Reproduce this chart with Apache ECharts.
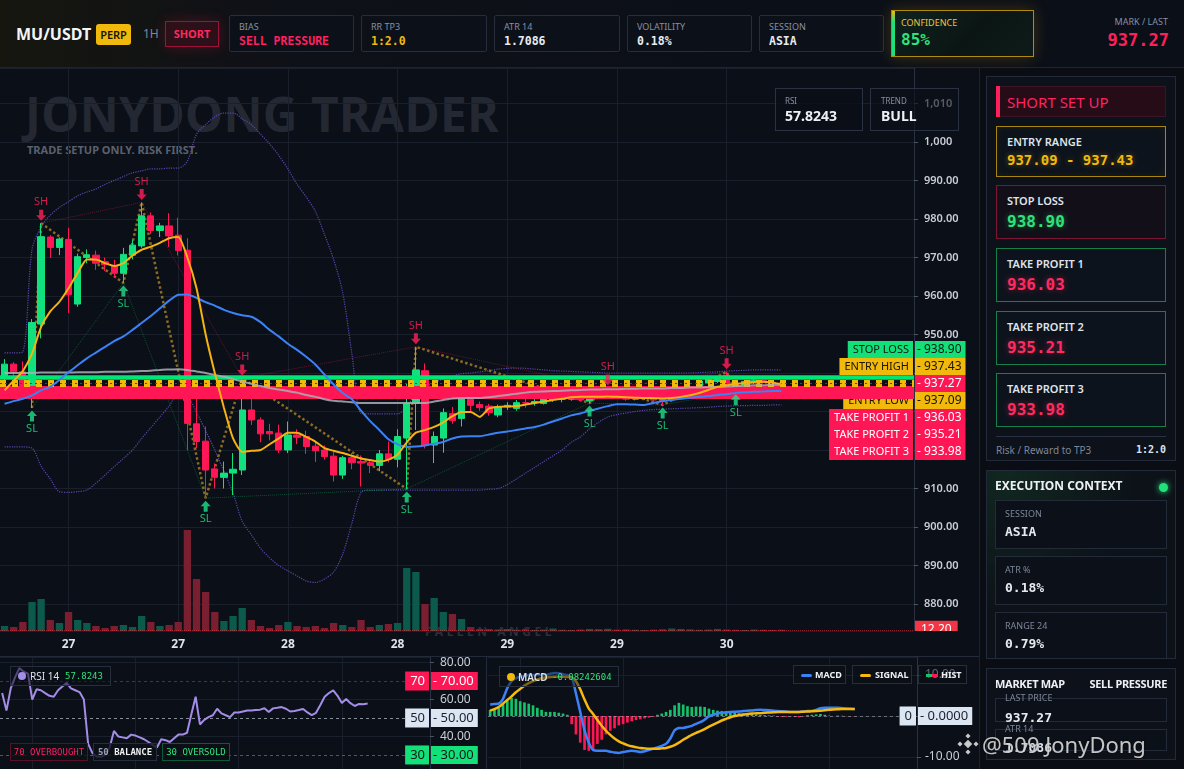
<!DOCTYPE html>
<html>
<head>
<meta charset="utf-8">
<title>MU/USDT</title>
<script src="https://cdn.jsdelivr.net/npm/echarts@6.0.0/dist/echarts.min.js"></script>
<style>
* { box-sizing: border-box; }
html, body { margin:0; padding:0; width:1184px; height:769px; overflow:hidden; background:#0b0f17; font-family:"Noto Sans","DejaVu Sans",sans-serif; }
.abs { position:absolute; }
.mono { font-family:"DejaVu Sans Mono","Liberation Mono",monospace; font-weight:700; }
#bg, #chart { position:absolute; left:0; top:0; width:1184px; height:769px; }
.stat { position:absolute; top:15px; height:37px; border:1px solid #262d3b; background:#0c1119; border-radius:2px; }
.stat .lb { position:absolute; left:9px; top:5px; font-size:9px; color:#8790a3; line-height:12px; }
.stat .vl { position:absolute; left:9px; top:18px; font-size:11.5px; line-height:14px; }
.card { position:absolute; left:996px; width:170px; background:#0d131c; border:1px solid; }
.card .lb { position:absolute; left:10px; top:7px; font-size:11px; font-weight:600; color:#dfe3ea; line-height:15px; }
.card .vl { position:absolute; left:10px; font-size:16px; line-height:20px; }
.sub { position:absolute; left:8px; width:172px; border:1px solid #232a38; background:#0c1119; }
.sub .lb { position:absolute; left:9px; font-size:9px; color:#7d8699; line-height:12px; }
.sub .vl { position:absolute; left:9px; font-size:13px; color:#e6e9ef; line-height:16px; }
.leg { position:absolute; border:1px solid #262d3b; background:rgba(11,15,23,0.8); }
</style>
</head>
<body>
<div id="bg">
  <div class="abs" style="left:25px;top:82px;font-size:48px;font-weight:700;color:#232833;letter-spacing:0.4px;white-space:nowrap;line-height:64px;">JONYDONG TRADER</div>
  <div class="abs" style="left:27px;top:142px;font-size:11px;font-weight:700;color:#5a606e;white-space:nowrap;line-height:16px;">TRADE SETUP ONLY. RISK FIRST.</div>
  <div class="abs" style="left:425px;top:624px;font-size:12px;font-weight:700;color:#2a2f3a;letter-spacing:3.5px;white-space:nowrap;line-height:16px;">FALLEN ANGEL</div>
</div>
<div id="chart"></div>

<!-- structural lines / right column -->
<div class="abs" style="left:979px;top:68px;width:205px;height:701px;background:#0a0d14;border-left:1px solid #1b2130;"></div>
<div class="abs" style="left:0;top:656px;width:979px;height:1px;background:#232a39;"></div>
<div class="abs" style="left:486px;top:657px;width:1px;height:112px;background:#232a39;"></div>

<!-- header -->
<div class="abs" style="left:0;top:0;width:1184px;height:68px;background:linear-gradient(90deg,#16160f 0%,#0f1117 22%,#0b0f17 60%,#0b0f17 100%);border-bottom:1px solid #1d2331;">
  <div class="abs" style="left:16px;top:23px;font-size:16px;font-weight:700;color:#f2f4f7;line-height:22px;">MU/USDT</div>
  <div class="abs" style="left:96px;top:24px;width:35px;height:21px;background:#f0b90b;border-radius:3px;color:#1a1400;font-size:11px;font-weight:600;text-align:center;line-height:21px;">PERP</div>
  <div class="abs" style="left:143px;top:26px;font-size:12px;color:#7f889b;line-height:16px;">1H</div>
  <div class="abs" style="left:165px;top:21px;width:54px;height:26px;border:1px solid #9c1238;background:rgba(120,10,35,0.28);box-shadow:0 0 14px rgba(255,23,68,0.22);color:#ff2860;font-size:11px;font-weight:700;text-align:center;line-height:24px;">SHORT</div>
  <div class="stat" style="left:229px;width:125px;"><div class="lb">BIAS</div><div class="vl mono" style="color:#ff2060;">SELL PRESSURE</div></div>
  <div class="stat" style="left:361px;width:126px;"><div class="lb">RR TP3</div><div class="vl mono" style="color:#f0b90b;">1:2.0</div></div>
  <div class="stat" style="left:494px;width:126px;"><div class="lb">ATR 14</div><div class="vl mono" style="color:#e8ebf0;">1.7086</div></div>
  <div class="stat" style="left:627px;width:125px;"><div class="lb">VOLATILITY</div><div class="vl mono" style="color:#e8ebf0;">0.18%</div></div>
  <div class="stat" style="left:759px;width:125px;"><div class="lb">SESSION</div><div class="vl mono" style="color:#e8ebf0;">ASIA</div></div>
  <div class="abs" style="left:891px;top:10px;width:143px;height:47px;border:1px solid #b08a10;background:linear-gradient(135deg,#0f231f 0%,#0b1614 55%,#0e1b18 100%);box-shadow:0 0 16px rgba(240,185,11,0.22);">
    <div class="abs" style="left:0;top:0;width:3px;height:45px;background:linear-gradient(180deg,#f0b90b 0%,#1fe07a 25%,#1fe07a 100%);"></div>
    <div class="abs" style="left:9px;top:6px;font-size:9px;color:#f0c23b;line-height:12px;">CONFIDENCE</div>
    <div class="abs mono" style="left:9px;top:19px;font-size:16px;color:#2ee37a;line-height:20px;">85%</div>
  </div>
  <div class="abs" style="right:16px;top:16px;font-size:9px;color:#8790a3;line-height:12px;">MARK / LAST</div>
  <div class="abs mono" style="right:15px;top:29px;font-size:17px;color:#ff1f5a;line-height:22px;">937.27</div>
</div>

<!-- main chart info boxes -->
<div class="abs" style="left:775px;top:88px;width:88px;height:43px;border:1px solid #2a3142;background:rgba(11,15,23,0.75);">
  <div class="abs" style="left:9px;top:6px;font-size:8px;color:#8790a3;line-height:11px;">RSI</div>
  <div class="abs" style="left:9px;top:17px;font-size:14px;font-weight:700;color:#eef0f4;line-height:20px;">57.8243</div>
</div>
<div class="abs" style="left:870px;top:88px;width:89px;height:43px;border:1px solid #2a3142;background:rgba(11,15,23,0.6);">
  <div class="abs" style="left:10px;top:6px;font-size:8px;color:#8790a3;line-height:11px;">TREND</div>
  <div class="abs" style="left:10px;top:17px;font-size:14px;font-weight:700;color:#eef0f4;line-height:20px;">BULL</div>
</div>

<!-- right panel: short set up -->
<div class="abs" style="left:986px;top:76px;width:190px;height:385px;border:1px solid #232a39;background:#0d1119;"></div>
<div class="abs" style="left:996px;top:86px;width:170px;height:31px;background:#250c17;border:1px solid #3a1525;">
  <div class="abs" style="left:-1px;top:-1px;width:4px;height:31px;background:#ff1f5a;"></div>
  <div class="abs" style="left:10px;top:5px;font-size:15px;color:#ff2260;line-height:20px;">SHORT SET UP</div>
</div>
<div class="card" style="top:126px;height:51px;border-color:#a8850f;box-shadow:inset 0 0 10px rgba(240,185,11,0.06);">
  <div class="lb">ENTRY RANGE</div>
  <div class="vl mono" style="top:24px;font-size:14px;line-height:18px;color:#f0b90b;text-shadow:0 0 6px rgba(240,185,11,0.4);">937.09 - 937.43</div>
</div>
<div class="card" style="top:185px;height:54px;border-color:#7d1634;background:#120f18;">
  <div class="lb" style="top:7px;">STOP LOSS</div>
  <div class="vl mono" style="top:26px;color:#2ee37a;text-shadow:0 0 6px rgba(46,227,122,0.45);">938.90</div>
</div>
<div class="card" style="top:248px;height:54px;border-color:#17804a;">
  <div class="lb">TAKE PROFIT 1</div>
  <div class="vl mono" style="top:26px;color:#ff2a5f;text-shadow:0 0 6px rgba(255,42,95,0.45);">936.03</div>
</div>
<div class="card" style="top:311px;height:54px;border-color:#17804a;">
  <div class="lb">TAKE PROFIT 2</div>
  <div class="vl mono" style="top:26px;color:#ff2a5f;text-shadow:0 0 6px rgba(255,42,95,0.45);">935.21</div>
</div>
<div class="card" style="top:373px;height:54px;border-color:#17804a;">
  <div class="lb">TAKE PROFIT 3</div>
  <div class="vl mono" style="top:26px;color:#ff2a5f;text-shadow:0 0 6px rgba(255,42,95,0.45);">933.98</div>
</div>
<div class="abs" style="left:996px;top:436px;width:170px;height:1px;background:#2a3142;"></div>
<div class="abs" style="left:996px;top:443px;font-size:10px;color:#7d8699;line-height:14px;">Risk / Reward to TP3</div>
<div class="abs mono" style="left:1130px;top:443px;width:36px;text-align:right;font-size:10px;color:#dfe3ea;line-height:14px;">1:2.0</div>

<!-- execution context -->
<div class="abs" style="left:986px;top:470px;width:190px;height:189px;border:1px solid #232a39;overflow:hidden;background:radial-gradient(ellipse at 10% 0%,rgba(30,90,55,0.35) 0%,rgba(13,18,25,1) 55%);">
  <div class="abs" style="left:8px;top:7px;font-size:12px;font-weight:700;color:#eef0f4;line-height:16px;">EXECUTION CONTEXT</div>
  <div class="abs" style="left:172px;top:12px;width:9px;height:9px;border-radius:50%;background:#22e07a;box-shadow:0 0 6px #22e07a;"></div>
  <div class="sub" style="top:29px;height:49px;"><div class="lb" style="top:7px;">SESSION</div><div class="vl mono" style="top:23px;">ASIA</div></div>
  <div class="sub" style="top:85px;height:49px;"><div class="lb" style="top:7px;">ATR %</div><div class="vl mono" style="top:23px;">0.18%</div></div>
  <div class="sub" style="top:141px;height:49px;"><div class="lb" style="top:7px;">RANGE 24</div><div class="vl mono" style="top:23px;">0.79%</div></div>
</div>

<!-- market map -->
<div class="abs" style="left:986px;top:668px;width:190px;height:92px;border:1px solid #232a39;background:#0d1119;">
  <div class="abs" style="left:8px;top:7px;font-size:11px;font-weight:700;color:#eef0f4;line-height:15px;letter-spacing:-0.3px;">MARKET MAP</div>
  <div class="abs" style="right:8px;top:7px;font-size:11px;font-weight:700;color:#eef0f4;line-height:15px;letter-spacing:-0.3px;">SELL PRESSURE</div>
  <div class="sub" style="top:29px;height:24px;"><div class="lb" style="top:-7px;">LAST PRICE</div><div class="vl mono" style="top:11px;">937.27</div></div>
  <div class="sub" style="top:60px;height:22px;"><div class="lb" style="top:-7px;">ATR 14</div><div class="vl mono" style="top:10px;">1.7086</div></div>
</div>
<div class="abs" style="left:957px;top:733px;width:22px;height:22px;">
  <svg width="22" height="22" viewBox="0 0 22 22">
    <g fill="rgba(235,235,235,0.85)">
      <rect x="8" y="8" width="6" height="6" transform="rotate(45 11 11)"/>
      <rect x="9.2" y="1.2" width="3.6" height="3.6" transform="rotate(45 11 3)"/>
      <rect x="9.2" y="17.2" width="3.6" height="3.6" transform="rotate(45 11 19)"/>
      <rect x="1.2" y="9.2" width="3.6" height="3.6" transform="rotate(45 3 11)"/>
      <rect x="17.2" y="9.2" width="3.6" height="3.6" transform="rotate(45 19 11)"/>
    </g>
  </svg>
</div>
<div class="abs" style="left:982px;top:729px;font-size:22px;color:rgba(230,230,230,0.85);line-height:30px;white-space:nowrap;text-shadow:0 0 2px rgba(0,0,0,0.6);">@509 JonyDong</div>

<!-- RSI legends -->
<div class="leg" style="left:10px;top:666px;width:101px;height:20px;background:rgba(11,15,23,0.55);">
  <div class="abs" style="left:7px;top:5px;width:8px;height:8px;border-radius:50%;background:#a48de8;"></div>
  <div class="abs" style="left:19px;top:3px;font-size:10px;color:#dfe3ea;line-height:13px;">RSI 14</div>
  <div class="abs mono" style="left:54px;top:3px;font-size:9px;color:#2ee37a;line-height:13px;font-weight:400;">57.8243</div>
</div>
<div class="leg mono" style="left:10px;top:743px;width:78px;height:18px;border-color:#5a1024;font-size:9px;color:#ff2060;line-height:16px;text-align:center;font-weight:400;">70 OVERBOUGHT</div>
<div class="leg mono" style="left:93px;top:743px;width:64px;height:18px;font-size:9px;color:#eef0f4;line-height:16px;text-align:center;"><span style="color:#9aa2b2;">50</span> BALANCE</div>
<div class="leg mono" style="left:162px;top:743px;width:68px;height:18px;border-color:#0f5a36;font-size:9px;color:#2ee37a;line-height:16px;text-align:center;font-weight:400;">30 OVERSOLD</div>

<!-- MACD legends -->
<div class="leg" style="left:499px;top:666px;width:120px;height:21px;background:rgba(11,15,23,0.5);">
  <div class="abs" style="left:7px;top:6px;width:8px;height:8px;border-radius:50%;background:#f0b90b;"></div>
  <div class="abs" style="left:18px;top:3px;font-size:10px;font-weight:600;color:#dfe3ea;line-height:14px;">MACD</div>
  <div class="abs mono" style="left:52px;top:3px;font-size:9px;color:#2ee37a;line-height:14px;font-weight:400;">-0.08242604</div>
</div>
<div class="leg" style="left:793px;top:665px;width:53px;height:19px;">
  <div class="abs" style="left:7px;top:8px;width:11px;height:3px;border-radius:2px;background:#3b82f6;"></div>
  <div class="abs" style="left:21px;top:2px;font-size:9px;font-weight:700;color:#eef0f4;line-height:14px;">MACD</div>
</div>
<div class="leg" style="left:852px;top:665px;width:60px;height:19px;">
  <div class="abs" style="left:7px;top:8px;width:11px;height:3px;border-radius:2px;background:#f5b90f;"></div>
  <div class="abs" style="left:22px;top:2px;font-size:9px;font-weight:700;color:#eef0f4;line-height:14px;">SIGNAL</div>
</div>
<div class="leg" style="left:918px;top:665px;width:49px;height:19px;background:rgba(11,15,23,0.55);">
  <div class="abs" style="left:7px;top:8px;width:6px;height:3px;background:#14c26a;"></div>
  <div class="abs" style="left:13px;top:8px;width:6px;height:3px;background:#ff1654;"></div>
  <div class="abs" style="left:22px;top:2px;font-size:9px;font-weight:700;color:#eef0f4;line-height:14px;">HIST</div>
</div>

<script>
// ---------------- DATA ----------------
const candles = [ // [open, close, low, high]
[939.2,942.3,938.0,943.6],[942.3,940.3,939.0,942.8],[940.3,934.3,933.5,943.0],[936.5,953.1,930.9,954.0],
[952.7,975.4,949.0,978.9],[975.3,972.6,969.9,975.8],[972.6,974.8,970.6,975.2],[974.7,960.3,955.6,977.7],
[957.9,970.2,957.2,971.0],[970.0,970.7,968.5,972.1],[970.6,968.5,966.8,971.8],[968.9,968.1,966.5,970.0],
[967.8,965.9,964.7,969.4],[965.9,970.8,963.4,972.5],[970.6,973.2,969.5,974.5],[973.0,980.8,972.5,984.3],
[980.8,977.0,976.1,981.7],[977.0,978.2,975.3,979.0],[978.2,975.6,972.7,981.5],[975.8,971.8,970.5,980.3],
[971.9,926.9,920.0,975.0],[926.8,922.2,920.4,934.7],[922.3,914.8,907.5,926.1],[915.1,912.9,910.0,916.5],
[912.9,914.0,910.0,917.0],[914.0,915.0,908.3,919.2],[914.8,930.4,913.5,938.7],[930.4,927.8,926.5,934.3],
[927.8,924.2,922.0,928.5],[924.8,924.2,922.5,926.8],[924.4,920.0,919.2,926.6],[920.0,923.9,919.2,927.4],
[923.9,923.3,921.5,925.4],[923.5,920.9,919.0,925.0],[921.0,919.8,916.9,922.2],[920.0,918.3,917.5,921.2],
[918.4,913.5,911.8,919.5],[913.5,918.0,912.5,918.5],[918.0,916.7,915.0,919.2],[917.0,916.6,910.5,918.6],
[916.7,916.0,914.0,917.5],[916.0,919.0,914.5,920.0],[919.0,917.6,916.8,922.2],[917.6,923.5,915.5,925.4],
[923.1,932.1,909.9,937.3],[932.1,940.8,925.2,946.8],[940.6,921.3,920.4,942.5],[921.3,923.5,916.6,924.8],
[923.1,929.7,919.3,930.8],[929.5,927.6,926.8,931.2],[928.2,933.4,926.1,936.0],[933.2,931.6,930.0,934.0],
[931.8,931.0,930.2,932.6],[931.4,929.7,928.9,932.0],[929.1,931.2,928.5,931.8],[931.2,931.6,930.4,932.4],
[930.8,932.3,930.2,933.0],[932.3,932.2,931.0,933.4],[932.2,932.6,931.5,933.2],[932.1,933.2,931.8,933.6],
[933.0,933.7,932.5,934.2],[933.2,933.7,932.4,934.6],[933.2,934.5,932.8,935.0],[933.8,933.0,932.6,934.2],
[932.7,933.8,932.2,934.2],[933.8,934.7,933.4,935.2],[934.4,935.0,933.8,936.1],[934.3,933.7,933.3,934.8],
[934.0,933.2,932.8,934.4],[933.2,934.0,932.9,934.4],[933.4,934.1,933.0,934.5],[933.6,933.0,932.6,934.0],
[933.4,932.6,931.7,933.8],[933.0,934.0,932.8,934.3],[933.8,935.3,933.5,935.7],[934.8,936.0,934.5,936.5],
[936.5,937.9,936.0,938.4],[937.4,938.6,937.0,939.2],[937.8,938.6,937.4,939.0],[939.4,936.9,936.2,940.3],
[937.3,936.2,935.1,937.6],[936.9,937.8,936.5,938.2],[937.5,938.0,937.1,938.4],[938.0,937.6,937.2,938.3],
[937.6,937.4,937.0,937.9],[937.4,937.27,937.0,937.8]
];
const volumes = [50,40,90,290,320,110,80,190,110,80,50,30,50,60,40,150,90,50,60,90,
1010,520,390,190,100,150,230,110,50,30,60,90,50,40,50,30,80,60,40,110,
40,60,70,80,630,590,270,330,190,170,120,40,20,20,15,20,12,18,10,14,
25,12,10,15,20,18,22,14,16,12,10,14,18,25,20,16,12,14,20,15,12,10,14,12,11,12.2];
const emaFast = [935.5,938,940.5,945,952,956,958.5,962,966,969.5,969.5,968.5,967.8,968.5,970.5,972,972.8,973.8,975,975.3,
970,962,950,940,931,923,919.5,919.8,920,921.5,923,924.5,924.5,923.4,922.2,920.5,919.8,919.2,918.5,917.8,
917.4,917,917.5,918.8,922,924.5,925.2,926,927.2,928.8,929.9,929.9,928.6,930.8,931.2,931.3,931.4,931.8,932.2,932.6,
933,933.3,933.7,933.8,933.8,933.8,933.9,933.8,933.7,933.6,933.5,933.5,933.4,933.5,933.8,934.2,934.8,935.6,936.4,936.8,
937.2,937.4,937.6,937.7,937.5,937.1];
const emaSlow = [932,932.7,933.3,934.2,935.5,936.4,938.2,940.2,942,943.8,945.3,946.8,948.3,949.5,951.2,953,954.8,956.8,958.8,960.3,
960.4,959.5,958.4,957.5,956.4,955.6,955,954.6,953.2,951.2,949.5,947.6,946,944.2,942.2,939.6,937,934.8,933.2,930.2,
927.5,925.2,922.8,921.5,920.8,920.9,921.2,921.6,922.1,923,923.5,923.6,923.6,924,924.5,924.8,925.2,925.6,926,926.6,
927.4,928.2,929,929.5,930.2,930.8,931.4,931.9,931.9,931.8,931.7,932.2,932.7,933,933.3,933.6,933.8,934,934.3,934.5,
934.8,935,935.1,935.2,935.3,935.3];
const smaLong = [940,940,940,940,940.1,940.1,940.1,940.1,940.2,940.2,940.2,940.3,940.3,940.3,940.4,940.5,940.6,940.8,940.9,941,
940.8,940.4,940,939.5,939,938.4,937.8,937.2,936.6,936.1,935.7,935.3,934.9,934.3,933.8,933.2,932.8,932.6,932.4,932.2,
932.2,932.2,932.2,932.2,932.2,932.2,932.2,932.6,933,933.4,933.5,933.5,933.5,933.7,934,934.3,934.6,934.9,935.1,935.2,
935.3,935.4,935.5,935.6,935.7,935.7,935.8,935.8,935.9,935.9,936,936,936,936.1,936.1,936.2,936.2,936.3,936.4,936.5,
936.6,936.7,936.8,936.8,936.9,936.9];
const bbUpper = [945.2,945.2,945.5,972,978,981,983,984.5,986,987,987.8,989,990,991,992,992.5,993,993,993.2,993.2,
995,1002,1004.5,1006.5,1007.5,1007.5,1006,1004.5,1002,999.5,996.5,993,989,985.7,982,976,969.5,960.8,945,929.5,
929.4,929.4,929.4,929.4,931,935,936.5,937.5,938.5,939.2,939.8,940,940.3,940.6,941,941.2,941.3,941.2,941,940.8,
940.6,940.5,940.4,940.3,940.2,940.1,940,940,940,940,940,940,940,940,940,940,940.1,940.2,940.3,940.5,
940.6,940.7,940.8,940.8,940.8,940.8];
const bbLower = [920.8,920.8,920.8,920.5,915.8,912.5,909.2,909,909.2,909.6,911.4,913.5,915.7,917.8,920,923,925.8,928.6,931.4,934.5,
934,929.8,925,920,914.5,908.8,901.5,898,894.5,892,890,888.6,887.3,886,885.6,886.5,888.3,893,901,909,
909.6,909.6,909.6,909.6,909.6,909.6,909.6,909.6,909.6,909.6,909.6,909.6,909.6,909.8,910,911,912.5,914,915.5,917,
918.5,920,922,923.4,925.5,927.2,928.6,929.2,929.6,930,930.3,930.5,930.6,930.7,930.8,930.9,931,931.1,931.3,931.4,
931.5,931.5,931.6,931.6,931.7,931.7];
const swingHighs = [[4,978.9],[15,984.3],[26,938.7],[45,946.8],[66,936.1],[79,940.3]];
const swingLows = [[3,930.9],[13,963.4],[22,907.5],[44,909.9],[64,932.2],[72,931.7],[80,935.1]];
const swingPath = [[3,930.9],[4,978.9],[13,963.4],[15,984.3],[22,907.5],[26,938.7],[44,909.9],[45,946.8],[64,932.2],[66,936.1],[72,931.7],[79,940.3],[80,935.1]];
const levelNames = ['STOP LOSS','ENTRY HIGH','','ENTRY LOW','TAKE PROFIT 1','TAKE PROFIT 2','TAKE PROFIT 3'];
const levelValues = [938.90, 937.43, 937.27, 937.09, 936.03, 935.21, 933.98];
const lastVolume = 12.20;
const rsiValues = [63.5,54,66,72,77,75,74,60,65.5,65,63.5,62,61.5,65,67,69,66,65,64,60,
36,31,29,29,30,34,43,40,39.5,39,41,40.5,39.5,38.5,37,35.5,34,38.5,38,37,
39,41,41,42,52,61.5,46.5,49,50.5,51.5,55,52.5,51.5,50.5,53,53,53.5,54,54,54.3,
54.5,55.3,53.2,55.2,55.5,55.9,55,53.5,53.8,54.3,54.9,53,51.6,52.8,57,61.5,63.5,65,62,58.1,
60.3,58,56.5,57.6,57.4,57.82];
const rsiLevels = [70, 50, 30];
const macdLine = [2.8,2.9,3,4.2,6.8,8.5,9.2,9.5,9.8,10,10,10,10,10,10.3,10.5,10.4,10.2,10,9.5,
5.5,1,-3.5,-6.5,-8.3,-8.5,-8.5,-8.5,-8.7,-8.9,-9,-8.8,-8.6,-8.5,-8.6,-8.8,-8.6,-8.3,-8,-7.7,
-7.3,-6.8,-5.5,-3.5,-2.9,-2.9,-2.7,-2.4,-1.9,-1.5,-0.9,-0.1,0.3,0.6,0.8,0.9,1,1.05,1.1,1.2,
1.3,1.35,1.45,1.5,1.45,1.4,1.3,1.2,1.15,1.1,1,1,1,1.1,1.2,1.25,1.5,1.9,2,2,
2,2,1.9,1.8,1.75,1.7];
const signalLine = [1.3,1.7,2.2,3,3.9,4.8,5.8,6.6,7.4,8,8.5,8.9,9.2,9.4,9.5,9.6,9.6,9.6,9.5,9.4,
8.5,6.5,4,1.8,0.5,-1,-2.4,-3.6,-4.6,-5.5,-6.2,-6.7,-7.1,-7.4,-7.6,-7.8,-7.9,-8,-8,-8,
-7.9,-7.8,-7.5,-7.1,-6.5,-5.8,-5.2,-4.6,-4.1,-3.7,-3.2,-2.6,-2.1,-1.6,-1.1,-0.7,-0.3,0,0.2,0.35,
0.5,0.6,0.65,0.7,0.8,0.85,0.9,0.95,1,1,1,1,1,1.05,1.1,1.15,1.2,1.3,1.4,1.5,
1.6,1.65,1.7,1.7,1.7,1.7];
const histValues = [1.5,1.8,2,2.8,3.8,4.4,4.2,3.6,3.3,3,2.6,2,1.5,1,1,1,0.8,0.6,0.3,-2,
-4.5,-6.5,-8.3,-8.5,-8.2,-6.8,-5.8,-4.5,-3.6,-3,-2.3,-2,-1.6,-1.3,-1,-0.8,-0.6,-0.4,-0.2,0.3,
0.6,1,1.5,2.6,3.2,2.8,2.4,2.2,2.3,2.3,2.2,1.8,1.5,1.3,1.2,1.1,0.9,0.8,0.7,0.6,
0.5,0.5,0.4,0.3,0.2,0.15,0.1,-0.1,-0.2,-0.2,-0.1,-0.2,-0.3,-0.1,0.2,0.3,0.4,0.5,0.3,0.1,
0,0.1,0.05,-0.05,-0.05,-0.08];
const macdZero = 0;

// time axis: hourly slots
const categories = [];
for (let k = 0; k < 100; k++) {
  const t = 17 + k;
  const d = 26 + Math.floor(t / 24);
  const h = t % 24;
  categories.push(d + ' ' + (h < 10 ? '0' + h : h) + ':00');
}
const nData = candles.length;
const isHalfDay = (idx, val) => idx < nData && (val.endsWith(' 00:00') || val.endsWith(' 12:00'));
const isDay = (idx, val) => idx < nData && val.endsWith(' 00:00');

// ---------------- STYLE ----------------
const UP = '#12e07e', DOWN = '#ff1654', GRID = '#1a202b';
const levelStyles = [
  {bg:'#14e07a', fg:'#0b1a12', line:'#00e676', w:4.5, type:'solid'},
  {bg:'#f0b90b', fg:'#1a1400', line:'#f0b90b', w:6, type:[6,6]},
  {bg:'#ff1654', fg:'#ffffff', line:'#c0103f', w:1.2, type:[2,3]},
  {bg:'#f0b90b', fg:'#1a1400', line:'#f0b90b', w:6, type:[6,6]},
  {bg:'#ff1654', fg:'#ffffff', line:'#ff1654', w:5, type:'solid'},
  {bg:'#ff1654', fg:'#ffffff', line:'#ff1654', w:5, type:'solid'},
  {bg:'#ff1654', fg:'#ffffff', line:'#ff1654', w:5, type:'solid'}
];
const levelOrder = [4,5,6,0,1,3,2]; // draw order of band lines

const chart = echarts.init(document.getElementById('chart'), null, {renderer:'canvas'});
const catAxisHidden = (gi) => ({
  gridIndex: gi, type:'category', data: categories, boundaryGap: true,
  axisLine:{show:false}, axisTick:{show:false}, axisLabel:{show:false},
  splitLine:{show: gi >= 2, interval: isDay, alignWithLabel: true, lineStyle:{color:GRID}}
});

const option = {
  animation: false,
  backgroundColor: 'transparent',
  textStyle: { fontFamily: '"Noto Sans", sans-serif' },
  grid: [
    {left:0, right:270, top:68, bottom:138, outerBoundsMode:'none'},
    {left:0, right:270, top:500, bottom:138, outerBoundsMode:'none'},
    {left:0, right:754, top:657, bottom:0, outerBoundsMode:'none'},
    {left:488, right:267, top:657, bottom:0, outerBoundsMode:'none'}
  ],
  xAxis: [
    { gridIndex:0, type:'category', data:categories, boundaryGap:true,
      axisLine:{show:false}, axisTick:{show:false},
      axisLabel:{color:'#dfe3ea', fontSize:12, fontWeight:700, margin:8, interval:isHalfDay,
        formatter: v => v.split(' ')[0]},
      splitLine:{show:true, interval:isHalfDay, alignWithLabel:true, lineStyle:{color:GRID}} },
    catAxisHidden(1), catAxisHidden(2), catAxisHidden(3)
  ],
  yAxis: [
    { gridIndex:0, type:'value', position:'right', min:873, max:1019.2, splitNumber:15,
      axisLine:{show:true, lineStyle:{color:'#2a3142'}},
      axisTick:{show:true, length:4, lineStyle:{color:'#4a5263'}},
      axisLabel:{color:'#c9cdd5', fontSize:11, fontWeight:600, margin:10, showMinLabel:false, showMaxLabel:false,
        formatter: v => (v > 915 && v < 945) ? '' : (v >= 1000 ? v.toLocaleString('en-US') : v.toFixed(2))},
      splitLine:{show:true, lineStyle:{color:GRID}} },
    { gridIndex:1, type:'value', min:0, max:1310, show:false, splitLine:{show:false} },
    { gridIndex:2, type:'value', position:'right', min:22.4, max:83, splitNumber:3,
      axisLine:{show:true, lineStyle:{color:'#2a3142'}},
      axisTick:{show:true, length:4, lineStyle:{color:'#4a5263'}},
      axisLabel:{color:'#c9cdd5', fontSize:12, margin:10, showMinLabel:false, showMaxLabel:false,
        formatter: v => v.toFixed(2)},
      splitLine:{show:true, lineStyle:{color:GRID}} },
    { gridIndex:3, type:'value', position:'right', min:-12.93, max:14.39, splitNumber:3,
      axisLine:{show:true, lineStyle:{color:'#2a3142'}},
      axisTick:{show:true, length:4, lineStyle:{color:'#4a5263'}},
      axisLabel:{color:'#c9cdd5', fontSize:12, margin:8, showMinLabel:false, showMaxLabel:false,
        formatter: v => v === 0 ? '' : v.toFixed(2)},
      splitLine:{show:true, lineStyle:{color:GRID}} }
  ],
  series: [
    { name:'Volume', type:'bar', xAxisIndex:1, yAxisIndex:1, data: volumes, barWidth:'80%', z:1,
      itemStyle:{ color: p => candles[p.dataIndex][1] >= candles[p.dataIndex][0] ? '#0b5a4b' : '#7a1f30' },
      markLine:{ silent:true, symbol:['none','none'], animation:false,
        lineStyle:{color:'rgba(242,54,69,0.55)', type:'dotted', width:1},
        label:{show:true, position:'end', formatter: () => lastVolume.toFixed(2), backgroundColor:'#f23645',
          color:'#fff', fontSize:12, padding:[3,6,3,6], distance:1},
        data:[{yAxis:lastVolume}] } },
    { name:'BB Upper', type:'line', xAxisIndex:0, yAxisIndex:0, data:bbUpper, symbol:'none', smooth:0.3, z:2,
      lineStyle:{color:'#5b46ad', width:1.2, type:'dotted'} },
    { name:'BB Lower', type:'line', xAxisIndex:0, yAxisIndex:0, data:bbLower, symbol:'none', smooth:0.3, z:2,
      lineStyle:{color:'#5b46ad', width:1.2, type:'dotted'} },
    { name:'Highs', type:'line', data:swingHighs, symbol:'none', z:2,
      lineStyle:{color:'rgba(255,40,90,0.35)', width:1, type:'dotted'} },
    { name:'Lows', type:'line', data:swingLows, symbol:'none', z:2,
      lineStyle:{color:'rgba(20,200,110,0.35)', width:1, type:'dotted'} },
    { name:'K', type:'candlestick', xAxisIndex:0, yAxisIndex:0, data:candles, barWidth:'74%', z:3,
      itemStyle:{color:UP, color0:DOWN, borderColor:UP, borderColor0:DOWN, borderWidth:1} },
    { name:'Zigzag', type:'line', data:swingPath, symbol:'none', z:3,
      lineStyle:{color:'rgba(170,130,40,0.8)', width:2.5, type:'dotted'} },
    { name:'Levels', type:'line', data:[], z:4, symbol:'none',
      markLine:{ silent:true, symbol:['none','none'], animation:false, label:{show:false},
        data: levelOrder.map(k => ({yAxis: levelValues[k],
          lineStyle:{color:levelStyles[k].line, width:levelStyles[k].w, type:levelStyles[k].type}})) } },
    { name:'SMA', type:'line', data:smaLong, symbol:'none', smooth:0.2, z:5,
      lineStyle:{color:'rgba(170,175,185,0.85)', width:2} },
    { name:'EMA slow', type:'line', data:emaSlow, symbol:'none', smooth:0.2, z:5,
      lineStyle:{color:'#3b82f6', width:2} },
    { name:'EMA fast', type:'line', data:emaFast, symbol:'none', smooth:0.2, z:5,
      lineStyle:{color:'#f5b212', width:2} },
    { name:'SH', type:'scatter', data:swingHighs, z:6,
      symbol:'path://M3,0 L7,0 L7,6 L10,6 L5,12 L0,6 L3,6 Z', symbolSize:[10,11], symbolOffset:[0,-8],
      itemStyle:{color:'#ff1f5a'},
      label:{show:true, position:'top', distance:2, formatter:'SH', color:'#ff1f5a', fontSize:11} },
    { name:'SL', type:'scatter', data:swingLows, z:6,
      symbol:'path://M5,0 L10,6 L7,6 L7,12 L3,12 L3,6 L0,6 Z', symbolSize:[10,11], symbolOffset:[0,8],
      itemStyle:{color:'#1fe08a'},
      label:{show:true, position:'bottom', distance:2, formatter:'SL', color:'#1fe08a', fontSize:11} },
    { name:'RSI', type:'line', xAxisIndex:2, yAxisIndex:2, data:rsiValues, symbol:'none', z:5,
      lineStyle:{color:'#a48de8', width:2},
      markLine:{ silent:true, symbol:['none','none'], animation:false, label:{show:false},
        data:[
          {yAxis:rsiLevels[0], lineStyle:{color:'rgba(255,23,68,0.55)', type:[3,3], width:1}},
          {yAxis:rsiLevels[1], lineStyle:{color:'rgba(220,226,236,0.6)', type:[3,3], width:1}},
          {yAxis:rsiLevels[2], lineStyle:{color:'rgba(20,200,110,0.6)', type:[3,3], width:1}}
        ] } },
    { name:'HIST', type:'bar', xAxisIndex:3, yAxisIndex:3, data:histValues, barWidth:'62%', z:3,
      itemStyle:{ color: p => p.value >= 0 ? '#14c26a' : '#ff1654' },
      markLine:{ silent:true, symbol:['none','none'], animation:false, label:{show:false},
        data:[{yAxis:macdZero, lineStyle:{color:'rgba(200,205,215,0.45)', type:[3,3], width:1}}] } },
    { name:'MACD', type:'line', xAxisIndex:3, yAxisIndex:3, data:macdLine, symbol:'none', smooth:0.2, z:5,
      lineStyle:{color:'#3b82f6', width:2.5} },
    { name:'SIGNAL', type:'line', xAxisIndex:3, yAxisIndex:3, data:signalLine, symbol:'none', smooth:0.2, z:5,
      lineStyle:{color:'#f5b90f', width:2.5} }
  ]
};
chart.setOption(option);

// ---------------- axis tag boxes (positions via the axes) ----------------
function tagPair(out, name, text, cy, rightX, bg, fg, zName, fontName, fontVal) {
  if (name) out.push({ type:'text', z:zName, x:rightX - 1, y:cy,
    style:{ text:name, align:'right', verticalAlign:'middle', fill:fg, backgroundColor:bg,
      padding:[2,4,2,5], fontSize:fontName, fontFamily:'"Noto Sans", sans-serif', lineHeight:fontName + 2 } });
  out.push({ type:'text', z:20, x:rightX + 1, y:cy,
    style:{ text:'- ' + text, align:'left', verticalAlign:'middle', fill:fg, backgroundColor:bg,
      padding:[2,4,2,2], fontSize:fontVal, fontFamily:'"Noto Sans", sans-serif', lineHeight:fontVal + 1 } });
}
const g = [];
const mainRight = chart.convertToPixel({xAxisIndex:0}, categories[99]) + 9.14 / 2;
const priceIdx = 2;
const baseY = chart.convertToPixel({yAxisIndex:0}, levelValues[priceIdx]);
levelValues.forEach((v, k) => {
  const st = levelStyles[k];
  tagPair(g, levelNames[k], v.toFixed(2), baseY + (k - priceIdx) * 17, mainRight, st.bg, st.fg, 3, 11, 12);
});
const rsiRight = chart.convertToPixel({xAxisIndex:2}, categories[99]) + 2.15;
const rsiStyles = [{bg:'#ff1654', fg:'#ffffff'}, {bg:'#dce6f2', fg:'#1a2030'}, {bg:'#14e07a', fg:'#0b1a12'}];
rsiLevels.forEach((v, k) => {
  const cy = chart.convertToPixel({yAxisIndex:2}, v);
  tagPair(g, String(v), v.toFixed(2), cy, rsiRight, rsiStyles[k].bg, rsiStyles[k].fg, 20, 13, 13);
});
const macdRight = chart.convertToPixel({xAxisIndex:3}, categories[99]) + 2.15;
tagPair(g, String(macdZero), macdZero.toFixed(4), chart.convertToPixel({yAxisIndex:3}, macdZero),
  macdRight, '#dce6f2', '#1a2030', 20, 13, 13);
// mask below the main pane on the price-axis column (volume tag is cut there)
g.push({ type:'rect', z:30, shape:{x:mainRight, y:631, width:64, height:25}, style:{fill:'#0b0f17'} });
chart.setOption({ graphic: g });
</script>
</body>
</html>
